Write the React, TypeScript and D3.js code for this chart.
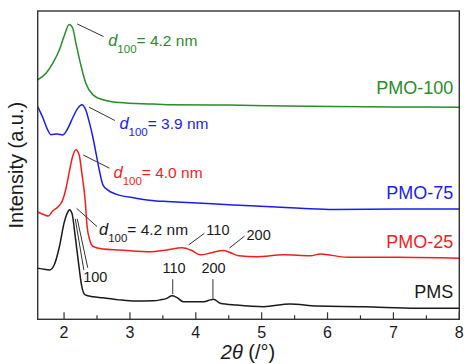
import React from "react";
import * as d3 from "d3";

const W = 474;
const H = 364;
const margin = { top: 11, right: 14.7, bottom: 44.7, left: 37.7 };

// 2-theta (deg) vs intensity (a.u., stacked)
const pmo100X = [1.6, 1.73, 1.83, 1.93, 2.0, 2.08, 2.13, 2.18, 2.26, 2.33, 2.44, 2.59, 2.84, 3.35, 3.56, 4.5, 5.08, 6.08, 7.0, 8.0];
const pmo100Y = [7.77, 7.99, 8.31, 8.74, 9.18, 9.56, 9.45, 8.96, 8.2, 7.66, 7.28, 7.12, 7.03, 6.98, 6.96, 6.95, 6.93, 6.9, 6.89, 6.88];

const pmo75X = [1.6, 1.68, 1.75, 1.8, 1.9, 1.98, 2.06, 2.13, 2.21, 2.27, 2.33, 2.38, 2.44, 2.49, 2.54, 2.59, 2.66, 2.79, 3.09, 3.4, 3.56, 4.57, 5.59, 6.09, 7.11, 8.0];
const pmo75Y = [6.9, 6.53, 6.15, 5.99, 6.01, 5.98, 6.2, 6.53, 6.85, 6.96, 6.79, 6.42, 5.88, 5.33, 4.79, 4.36, 4.2, 4.06, 3.93, 3.84, 3.82, 3.71, 3.6, 3.56, 3.58, 3.58];

const pmo25X = [1.6, 1.7, 1.76, 1.83, 1.91, 1.98, 2.03, 2.08, 2.13, 2.18, 2.23, 2.27, 2.32, 2.35, 2.39, 2.44, 2.59, 2.84, 3.31, 3.56, 3.79, 3.94, 4.07, 4.24, 4.42, 4.55, 4.65, 4.93, 5.33, 5.74, 5.89, 6.3, 7.06, 8.0];
const pmo25Y = [3.48, 3.39, 3.35, 3.52, 3.65, 3.87, 4.25, 4.79, 5.28, 5.5, 5.33, 4.74, 3.87, 3.01, 2.57, 2.36, 2.28, 2.25, 2.19, 2.25, 2.32, 2.23, 2.09, 2.16, 2.23, 2.14, 2.06, 2.03, 2.09, 2.06, 2.12, 2.01, 2.01, 1.98];

const pmsX = [1.6, 1.7, 1.78, 1.85, 1.93, 2.0, 2.06, 2.08, 2.12, 2.17, 2.22, 2.27, 2.32, 2.44, 2.59, 2.84, 3.09, 3.35, 3.46, 3.56, 3.64, 3.71, 3.81, 3.96, 4.12, 4.22, 4.27, 4.37, 4.62, 5.03, 5.43, 5.84, 6.55, 7.36, 8.0];
const pmsY = [1.66, 1.62, 1.6, 1.76, 2.36, 3.12, 3.49, 3.55, 3.44, 2.68, 1.82, 1.06, 0.79, 0.73, 0.7, 0.63, 0.59, 0.6, 0.63, 0.68, 0.76, 0.71, 0.57, 0.57, 0.57, 0.63, 0.65, 0.52, 0.46, 0.41, 0.5, 0.43, 0.41, 0.36, 0.36];

const seriesNames = ["PMO-100", "PMO-75", "PMO-25", "PMS"];
const seriesColors = ["#2a8c2a", "#1c1cf0", "#f01e1e", "#1a1a1a"];
const labelY = [7.31, 3.9, 2.31, 0.68];

const xTicks = [2, 3, 4, 5, 6, 7, 8];
const xMinorTicks = [2.5, 3.5, 4.5, 5.5, 6.5, 7.5];

// d100 callouts: [x1, y1, x2, y2, textX, textY, value]
const d100Notes = [
  [2.2, 9.58, 2.6, 9.17, 2.67, 8.87, "4.2"],
  [2.38, 6.88, 2.77, 6.45, 2.84, 6.17, "3.9"],
  [2.29, 5.33, 2.69, 4.9, 2.75, 4.58, "4.0"],
  [2.19, 3.6, 2.5, 3.01, 2.53, 2.74, "4.2"],
];
const d100Colors = ["#2a8c2a", "#1c1cf0", "#f01e1e", "#1a1a1a"];

// hkl callouts: [x1, y1, x2, y2, textX, textY, anchor, label]
const hklNotes = [
  [2.17, 3.26, 2.3, 1.6, 2.29, 1.22, "start", ""],
  [2.2, 3.26, 2.36, 1.67, 2.29, 1.22, "start", "100"],
  [3.65, 1.3, 3.65, 0.82, 3.67, 1.49, "middle", "110"],
  [4.26, 1.3, 4.26, 0.68, 4.27, 1.49, "middle", "200"],
  [3.89, 2.41, 4.13, 2.79, 4.16, 2.74, "start", "110"],
  [4.51, 2.31, 4.74, 2.7, 4.77, 2.57, "start", "200"],
];

const font = "'Liberation Sans', Arial, sans-serif";

export default function App() {
  const x = d3.scaleLinear().domain([1.6, 8]).range([margin.left, W - margin.right]);
  const y = d3.scaleLinear().domain([0, 10]).range([H - margin.bottom, margin.top]);

  const line = d3
    .line<[number, number]>()
    .x((d) => x(d[0]))
    .y((d) => y(d[1]))
    .curve(d3.curveMonotoneX);

  const series = [
    d3.zip(pmo100X, pmo100Y),
    d3.zip(pmo75X, pmo75Y),
    d3.zip(pmo25X, pmo25Y),
    d3.zip(pmsX, pmsY),
  ] as [number, number][][];

  const bottom = H - margin.bottom;

  return (
    <svg width={W} height={H} style={{ position: "absolute", left: 0, top: 0 }} fontFamily={font}>
      <rect width={W} height={H} fill="#fff" />

      {series.map((s, i) => (
        <path key={i} d={line(s) || ""} fill="none" stroke={seriesColors[i]} strokeWidth={1.5} />
      ))}

      {seriesNames.map((n, i) => (
        <text key={n} x={x(7.91)} y={y(labelY[i])} textAnchor="end" fontSize={18} fill={seriesColors[i]}>
          {n}
        </text>
      ))}

      {d100Notes.map((a, i) => (
        <g key={i} fill={d100Colors[i]}>
          <line x1={x(a[0] as number)} y1={y(a[1] as number)} x2={x(a[2] as number)} y2={y(a[3] as number)} stroke="#333" strokeWidth={1} />
          <text x={x(a[4] as number)} y={y(a[5] as number)} fontSize={15.5}>
            <tspan fontStyle="italic" fontSize={16.5}>d</tspan>
            <tspan fontSize={11.5} dy={7}>100</tspan>
            <tspan dy={-7}>= {a[6]} nm</tspan>
          </text>
        </g>
      ))}

      {hklNotes.map((a, i) => (
        <g key={i}>
          <line x1={x(a[0] as number)} y1={y(a[1] as number)} x2={x(a[2] as number)} y2={y(a[3] as number)} stroke="#333" strokeWidth={1} />
          <text x={x(a[4] as number)} y={y(a[5] as number)} fontSize={14.5} textAnchor={a[6] as string} fill="#1a1a1a">
            {a[7]}
          </text>
        </g>
      ))}

      {xTicks.map((t) => (
        <g key={t}>
          <line x1={x(t)} x2={x(t)} y1={bottom} y2={bottom - 7} stroke="#333" strokeWidth={1.2} />
          <text x={x(t)} y={bottom + 18.5} textAnchor="middle" fontSize={16} fill="#1a1a1a">
            {t}
          </text>
        </g>
      ))}
      {xMinorTicks.map((t) => (
        <line key={t} x1={x(t)} x2={x(t)} y1={bottom} y2={bottom - 4} stroke="#333" strokeWidth={1.2} />
      ))}

      <rect
        x={margin.left}
        y={margin.top}
        width={W - margin.left - margin.right}
        height={H - margin.top - margin.bottom}
        fill="none"
        stroke="#333"
        strokeWidth={1.4}
      />

      <text x={248} y={359} textAnchor="middle" fontSize={20} fill="#1a1a1a">
        <tspan fontStyle="italic">2θ</tspan>
        <tspan> (/°)</tspan>
      </text>
      <text
        transform={`translate(23,${(margin.top + bottom) / 2}) rotate(-90)`}
        textAnchor="middle"
        fontSize={20}
        fill="#1a1a1a"
      >
        Intensity (a.u.)
      </text>
    </svg>
  );
}
